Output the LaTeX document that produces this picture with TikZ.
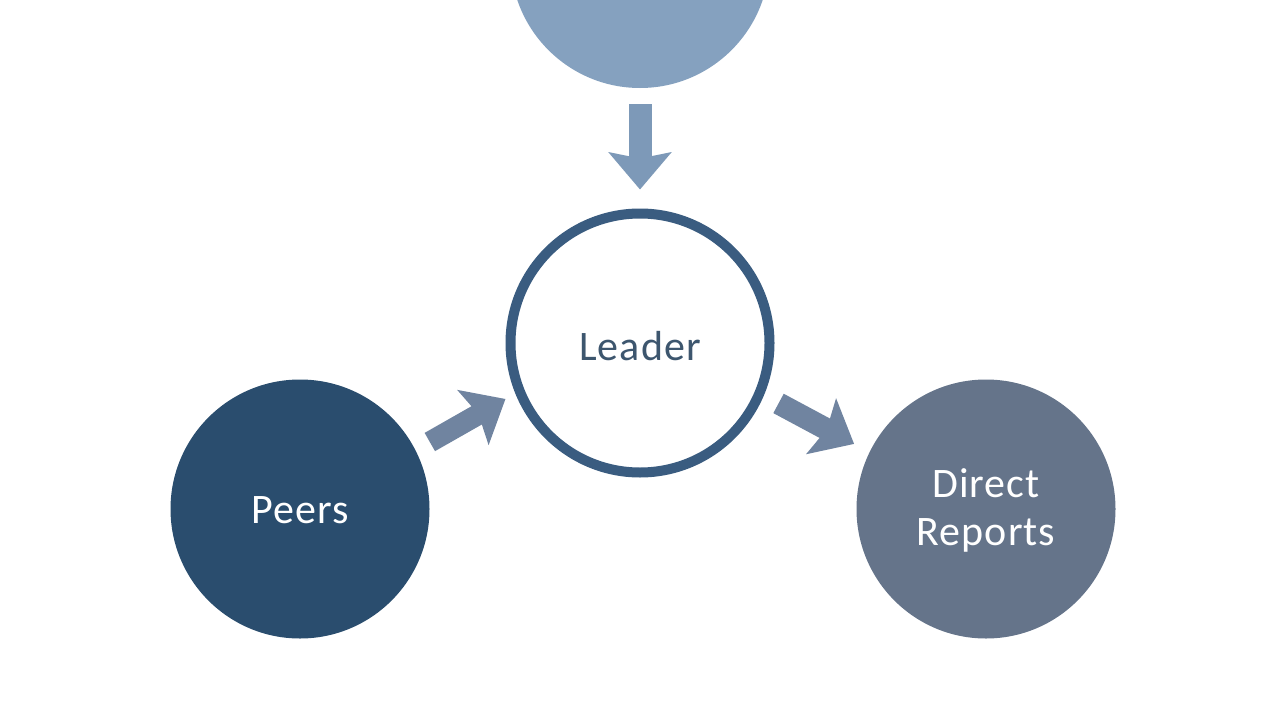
\documentclass[tikz,border=0pt]{standalone}
\usepackage{fontspec}
\setmainfont[LetterSpace=2.5]{Carlito}
\usetikzlibrary{arrows.meta}
\definecolor{topfill}{HTML}{85A1BF}
\definecolor{peerfill}{HTML}{2A4D6E}
\definecolor{directfill}{HTML}{65748A}
\definecolor{ringcol}{HTML}{3A5C80}
\definecolor{leadertext}{HTML}{3D566E}
\definecolor{toparrow}{HTML}{7D99B8}
\definecolor{sidearrow}{HTML}{7084A0}
\newcommand{\lowered}[2]{\raisebox{-#1}[\height][\depth]{#2}}
\tikzset{
  x=1pt,y=-1pt,
  filled/.style={circle,minimum size=259pt,inner sep=0pt,text=white,align=center,
    font=\fontsize{42}{48}\selectfont},
  ringed/.style={circle,draw=ringcol,line width=10pt,fill=white,minimum size=259pt,inner sep=0pt,
    text=leadertext,font=\fontsize{42}{48}\selectfont},
  blockarrow/.style={line width=#1,-{Stealth[length=37pt,width=62pt,inset=6pt]}},
}
\begin{document}
\begin{tikzpicture}
\path[use as bounding box,fill=white] (0,0) rectangle (1280,720);
\node[filled,fill=topfill] (top) at (640,-41.5) {};
\node[ringed] (leader) at (640,343) {\lowered{3.5pt}{Leader}};
\node[filled,fill=peerfill] (peers) at (300,509) {\lowered{1pt}{Peers}};
\node[filled,fill=directfill] (direct) at (986,509) {\lowered{1pt}{Direct}\\\lowered{1pt}{Reports}};
\draw[blockarrow=23pt,draw=toparrow,fill=toparrow,shorten <=16pt,shorten >=19pt] (top.south) -- (leader.north);
\draw[blockarrow=21pt,draw=sidearrow,fill=sidearrow,shorten <=16.4pt,shorten >=11.3pt] (peers.27) -- (leader.202);
\draw[blockarrow=22pt,draw=sidearrow,fill=sidearrow,shorten <=16.7pt,shorten >=17.4pt] (leader.-23) -- (direct.154);
\end{tikzpicture}
\end{document}
